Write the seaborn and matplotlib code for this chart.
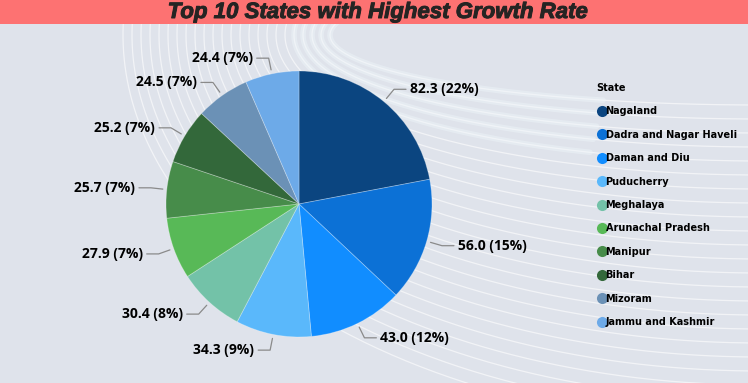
import numpy as np
import matplotlib.pyplot as plt
import matplotlib.patheffects as pe
from matplotlib.patches import Rectangle
from matplotlib.lines import Line2D
import seaborn as sns

# data
states = ["Nagaland", "Dadra and Nagar Haveli", "Daman and Diu", "Puducherry",
          "Meghalaya", "Arunachal Pradesh", "Manipur", "Bihar", "Mizoram",
          "Jammu and Kashmir"]
growth = [82.3, 56.0, 43.0, 34.3, 30.4, 27.9, 25.7, 25.2, 24.5, 24.4]
colors = ["#0B4580", "#0C71D6", "#118DFF", "#5AB8FB", "#73C2A8", "#58B957",
          "#478C4A", "#33683A", "#6B91B6", "#6DAAE8"]

sns.set_theme(style="white")
plt.rcParams['font.family'] = ['Open Sans', 'DejaVu Sans']
palette = sns.color_palette(colors)

W, H = 748, 383
fig = plt.figure(figsize=(W / 100, H / 100), dpi=100)
fig.patch.set_facecolor("#DFE3EB")

# decorative background: family of white elliptic sweeps (pixel coords, y down)
bg = fig.add_axes([0, 0, 1, 1], zorder=0)
bg.set_xlim(0, W)
bg.set_ylim(H, 0)
bg.axis('off')
th = np.linspace(-0.45, np.pi, 400)
for k in range(24):
    rx, ry = 430 + 9 * k, 70 + 14 * k
    ex = 760 - rx * np.cos(th)
    ey = 35 + ry * np.sin(th)
    bg.plot(ex, ey, color='white', alpha=0.6, lw=0.9)
    if k < 5:
        m = (th > -0.3) & (th < 1.2)
        bg.plot(ex[m], ey[m], color='#EEF5F9', alpha=0.45, lw=4)

# title bar
fig.patches.append(Rectangle((0, 1 - 24 / H), 1, 24 / H, transform=fig.transFigure,
                             facecolor="#FD7272", edgecolor='none', zorder=1))
fig.text(0.505, 1 - 12.5 / H, "Top 10 States with Highest Growth Rate", ha='center', va='center',
         fontsize=16, fontweight='bold', style='italic', color="#252423",
         family=['Liberation Sans', 'DejaVu Sans'], zorder=2,
         path_effects=[pe.withStroke(linewidth=0.7, foreground="#252423")])

# pie
cx, cy, R = 299, 204, 133
ax = fig.add_axes([(cx - R) / W, (H - cy - R) / H, 2 * R / W, 2 * R / H], zorder=3)
wedges, _ = ax.pie(growth, colors=palette, startangle=90, counterclock=False,
                   wedgeprops=dict(edgecolor=(1, 1, 1, 0.3), linewidth=0.6))
ax.set_xlim(-1, 1)
ax.set_ylim(-1, 1)
ax.set_aspect('equal')
ax.axis('off')

total = sum(growth)
for w, v in zip(wedges, growth):
    a = np.deg2rad((w.theta1 + w.theta2) / 2)
    x0, y0 = 1.03 * np.cos(a), 1.03 * np.sin(a)
    x1, y1 = 1.12 * np.cos(a), 1.12 * np.sin(a)
    side = 1 if np.cos(a) >= 0 else -1
    x2 = x1 + side * 0.09
    ax.plot([x0, x1, x2], [y0, y1, y1], color="#8A8A8A", lw=0.9, clip_on=False)
    ax.text(x2 + side * 0.03, y1, f"{v:.1f} ({v / total:.0%})", ha='left' if side > 0 else 'right',
            va='center', fontsize=10, fontweight='bold', color="#000000")

# legend
handles = [Line2D([], [], marker='o', ls='', markersize=8, markerfacecolor=c, markeredgecolor='none')
           for c in palette]
leg = fig.legend(handles, states, title="State", loc='upper left', bbox_to_anchor=(592 / W, 1 - 79 / H),
                 frameon=False, handletextpad=-0.2, labelspacing=1.38, handlelength=1.2,
                 borderaxespad=0, prop=dict(size=7, weight='bold', family='DejaVu Sans'),
                 title_fontproperties=dict(size=7, weight='bold', family='DejaVu Sans'))
leg._legend_box.align = 'left'
for txt in leg.get_texts():
    txt.set_color('black')
leg.get_title().set_color('black')
leg.set_zorder(4)

fig.savefig("out.png", dpi=100, facecolor=fig.get_facecolor())
